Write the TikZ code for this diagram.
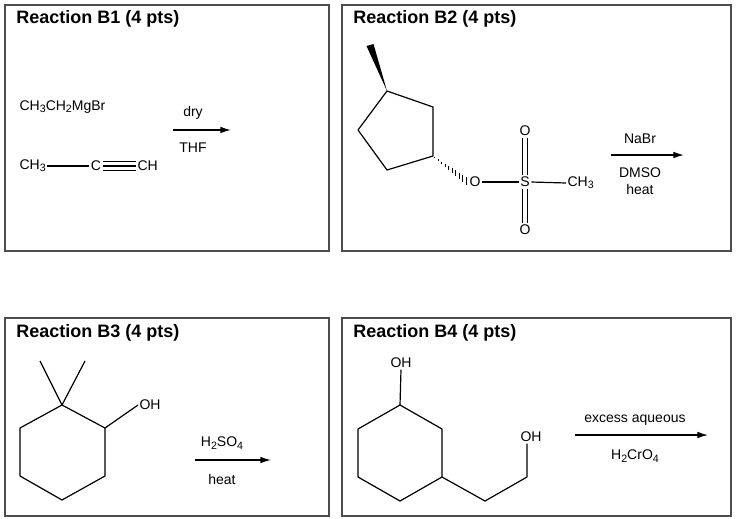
\documentclass[tikz,border=0pt]{standalone}
\usepackage{fontspec}
\setmainfont{Liberation Sans}
\usetikzlibrary{arrows.meta,calc}
\newcommand{\sbs}[1]{\raisebox{-0.3ex}{\fontsize{8}{9}\selectfont #1}}
\begin{document}
\begin{tikzpicture}[x=0.75pt,y=-0.75pt,
  panel/.style={draw=black!70,line width=0.8pt},
  ttl/.style={anchor=west,font=\fontsize{13.5}{15}\selectfont\bfseries,inner sep=0},
  lbl/.style={font=\fontsize{10.5}{12}\selectfont,inner sep=1pt},
  bond/.style={line width=0.9pt},
  rxn/.style={line width=1pt,-{Latex[length=8pt,width=5pt]}}]
\useasboundingbox (0,0) rectangle (737,518);
\fill[white] (0,0) rectangle (737,518);
% panels
\draw[panel] (5,5) rectangle (329,251);
\draw[panel] (342,5) rectangle (731,251);
\draw[panel] (5,318) rectangle (329,516);
\draw[panel] (342,318) rectangle (731,516);
\node[ttl] (t1) at (16,19) {Reaction B1 (4 pts)};
\node[ttl] (t2) at (353,19) {Reaction B2 (4 pts)};
\node[ttl] (t3) at (16,333) {Reaction B3 (4 pts)};
\node[ttl] (t4) at (353,333) {Reaction B4 (4 pts)};
% B1
\node[lbl,anchor=west] (grig) at (18,107) {CH\sbs{3}CH\sbs{2}MgBr};
\node[lbl,anchor=west] (me) at (18,166) {CH\sbs{3}};
\node[lbl] (c1) at (96,166) {C};
\node[lbl,anchor=west] (ch) at (136,166) {CH};
\draw[bond] (me.east) -- (c1.west);
\draw[bond] ([yshift=-3.5pt]c1.east) -- ([yshift=-3.5pt]ch.west);
\draw[bond] (c1.east) -- (ch.west);
\draw[bond] ([yshift=3.5pt]c1.east) -- ([yshift=3.5pt]ch.west);
\coordinate (a1s) at (173,130); \coordinate (a1e) at (231,130);
\draw[rxn] (a1s) -- (a1e);
\node[lbl] (dry) at (193,113) {dry};
\node[lbl] (thf) at (193,148) {THF};
% B2
\coordinate (r1) at (387,91); \coordinate (r2) at (433,107);
\coordinate (r3) at (433,156); \coordinate (r4) at (387,170);
\coordinate (r5) at (358,130);
\draw[bond,line join=round] (r1)--(r2)--(r3)--(r4)--(r5)--cycle;
\coordinate (mt) at (370,45);
\fill (r1) -- ($(mt)+(3.5,-1)$) -- ($(mt)+(-3.5,1)$) -- cycle;
\node[lbl] (o2) at (475,182) {O};
\node[lbl] (s2) at (525,182) {S};
\node[lbl] (ot) at (525,131) {O};
\node[lbl] (ob) at (525,230) {O};
\node[lbl,anchor=west] (m2) at (566,183) {CH\sbs{3}};
\foreach \t in {0.05,0.15,...,0.95}{
  \draw[line width=0.7pt] ($(r3)!\t!(o2.west)+(0,-\t*4)$) -- ($(r3)!\t!(o2.west)+(0,\t*4)$);}
\draw[bond] (o2.east) -- (s2.west);
\draw[bond] (s2.east) -- (m2.west);
\draw[bond] ([xshift=-2pt]s2.north) -- ([xshift=-2pt]ot.south);
\draw[bond] ([xshift=2pt]s2.north) -- ([xshift=2pt]ot.south);
\draw[bond] ([xshift=-2pt]s2.south) -- ([xshift=-2pt]ob.north);
\draw[bond] ([xshift=2pt]s2.south) -- ([xshift=2pt]ob.north);
\coordinate (a2s) at (611,155); \coordinate (a2e) at (684,155);
\draw[rxn] (a2s) -- (a2e);
\node[lbl] (nabr) at (640,139) {NaBr};
\node[lbl] (dmso) at (640,173) {DMSO};
\node[lbl] (heat2) at (640,189) {heat};
% B3
\coordinate (h1) at (62,405); \coordinate (h2) at (105,428);
\coordinate (h3) at (105,476); \coordinate (h4) at (62,500);
\coordinate (h5) at (20,476); \coordinate (h6) at (20,428);
\draw[bond,line join=round] (h1)--(h2)--(h3)--(h4)--(h5)--(h6)--cycle;
\coordinate (m31) at (40,361); \coordinate (m32) at (85,361);
\draw[bond] (h1)--(m31); \draw[bond] (h1)--(m32);
\node[lbl,anchor=west] (oh3) at (138,405) {OH};
\draw[bond] (h2) -- (oh3.west);
\coordinate (a3s) at (195,460); \coordinate (a3e) at (271,460);
\draw[rxn] (a3s) -- (a3e);
\node[lbl] (h2so4) at (222,443) {H\sbs{2}SO\sbs{4}};
\node[lbl] (heat3) at (222,479) {heat};
% B4
\coordinate (k1) at (400,405); \coordinate (k2) at (442,429);
\coordinate (k3) at (442,477); \coordinate (k4) at (400,501);
\coordinate (k5) at (358,477); \coordinate (k6) at (358,429);
\draw[bond,line join=round] (k1)--(k2)--(k3)--(k4)--(k5)--(k6)--cycle;
\node[lbl] (oh4a) at (401,363) {OH};
\draw[bond] (k1) -- (oh4a.south);
\coordinate (c41) at (485,501); \coordinate (c42) at (527,477);
\node[lbl] (oh4b) at (531,437) {OH};
\draw[bond,line join=round] (k3)--(c41)--(c42)--(oh4b.south-|c42);
\coordinate (a4s) at (575,435); \coordinate (a4e) at (708,435);
\draw[rxn] (a4s) -- (a4e);
\node[lbl] (exc) at (635,420) {excess aqueous};
\node[lbl] (cro) at (635,456) {H\sbs{2}CrO\sbs{4}};
\end{tikzpicture}
\end{document}
